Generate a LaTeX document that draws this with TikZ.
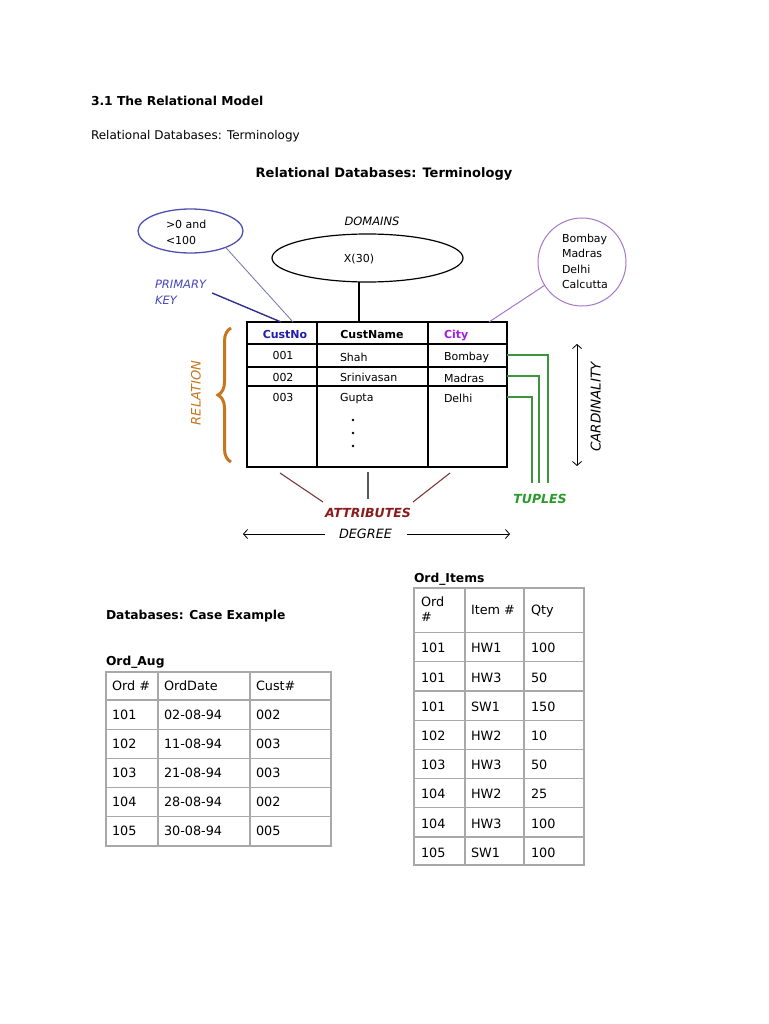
\documentclass[tikz,border=0pt]{standalone}
\usepackage{fontspec}
\setmainfont{DejaVu Sans}
\usetikzlibrary{shapes.geometric,decorations.pathreplacing,arrows.meta}
\definecolor{cnblue}{HTML}{1F1FA8}
\definecolor{pkblue}{HTML}{4545C0}
\definecolor{pkline}{HTML}{303090}
\definecolor{ellblue}{HTML}{5050B0}
\definecolor{elline}{HTML}{7272A8}
\definecolor{citypur}{HTML}{A020E0}
\definecolor{cirpur}{HTML}{A878C8}
\definecolor{relorange}{HTML}{C8761E}
\definecolor{tupgreen}{HTML}{2A9A2A}
\definecolor{tupline}{HTML}{3C963C}
\definecolor{attred}{HTML}{8B1C1C}
\definecolor{attline}{HTML}{7A3A3A}
\definecolor{tblgray}{HTML}{A8A8A8}
\begin{document}
\begin{tikzpicture}[x=1pt,y=-1pt,
  every node/.style={inner sep=0pt, outer sep=0pt},
  tx/.style={yshift=-2.2pt},
  lbl/.style={anchor=mid west, tx},
  ctext/.style={anchor=mid, tx},
  dia/.style={font=\fontsize{11}{15.4}\selectfont},
  diab/.style={font=\bfseries\fontsize{11}{14}\selectfont},
  tt/.style={anchor=mid west, tx, font=\fontsize{12.8}{15}\selectfont},
  ttb/.style={anchor=mid west, tx, font=\bfseries\fontsize{12.3}{15}\selectfont},
  tbl/.style={draw=tblgray, line width=1.2pt},
  dtbl/.style={draw=black, line width=1.2pt},
  tip/.style={{Straight Barb[length=4pt,width=9pt,line width=0.8pt]}-{Straight Barb[length=4pt,width=9pt,line width=0.8pt]}},
  rtip/.style={-{Straight Barb[length=4pt,width=9pt,line width=0.8pt]}}
]
\useasboundingbox (0,0) rectangle (768,1024);
\fill[white] (0,0) rectangle (768,1024);

% headings
\node[ttb, font=\bfseries\fontsize{12.3}{15}\selectfont] (h1) at (91,101) {3.1 The Relational Model};
\node[lbl, font=\fontsize{12}{15}\selectfont] (h2) at (91,135) {Relational Databases: Terminology};
\node[ctext, yshift=-0.8pt, font=\bfseries\fontsize{13}{15}\selectfont] (h3) at (384,172) {Relational Databases: Terminology};

% left ellipse and primary key
\node[ellipse, draw=ellblue, line width=1.3pt, minimum width=105, minimum height=44] (ellL) at (190.5,231) {};
\node[anchor=west, align=left, font=\fontsize{11}{16}\selectfont] (ellLt) at (166,232) {>0 and\\<100};
\node[anchor=west, align=left, text=pkblue, font=\itshape\fontsize{11.5}{16}\selectfont] (pk) at (155,292) {PRIMARY\\KEY};

% domains
\node[ctext, font=\itshape\fontsize{11.5}{14}\selectfont] (dom) at (372,221) {DOMAINS};
\node[ellipse, draw=black, line width=1.2pt, minimum width=191, minimum height=48] (ellM) at (367.5,258) {};
\node[ctext, dia] (x30) at (359,258) {X(30)};

% circle of cities
\node[circle, draw=cirpur, line width=1pt, minimum size=88] (cir) at (582,262) {};
\node[anchor=west, align=left, dia] (cirt) at (562,261.5) {Bombay\\Madras\\Delhi\\Calcutta};

% table coordinates
\coordinate (pkTop) at (281,322);
\coordinate (elTop) at (293,322);
\coordinate (mTop) at (359,322);
\coordinate (cityTop) at (489,322);

\draw[dtbl] (247,322) rectangle (507,467);
\draw[dtbl] (247,344) -- (507,344);
\draw[dtbl] (247,367) -- (507,367);
\draw[dtbl] (247,386) -- (507,386);
\draw[dtbl] (317,322) -- (317,467);
\draw[dtbl] (428,322) -- (428,467);

\node[ctext, diab, text=cnblue] (cCustNo) at (285,334) {CustNo};
\node[ctext, diab] (cCustName) at (372,334) {CustName};
\node[lbl, diab, text=citypur] (cCity) at (444,334) {City};
\node[ctext, dia] (r1a) at (283,355) {001};
\node[lbl, dia] (r1b) at (340,357) {Shah};
\node[lbl, dia] (r1c) at (444,356) {Bombay};
\node[ctext, dia] (r2a) at (283,377) {002};
\node[lbl, dia] (r2b) at (340,377) {Srinivasan};
\node[lbl, dia] (r2c) at (444,378) {Madras};
\node[ctext, dia] (r3a) at (283,397) {003};
\node[lbl, dia] (r3b) at (340,397) {Gupta};
\node[lbl, dia] (r3c) at (444,398) {Delhi};
\foreach \yy [count=\k] in {420,433,446}
  \fill (353,\yy) circle[radius=1.3pt];

% connectors from top
\draw[elline, line width=0.8pt] (ellL.-25) -- (elTop);
\draw[pkline, line width=1.4pt] ([xshift=6pt,yshift=-1pt]pk.east) -- (pkTop);
\draw[black, line width=1.2pt] (mTop) -- (mTop |- ellM.south);
\draw[cirpur, line width=1pt] (cir.212) -- (cityTop);

% relation brace
\draw[relorange, line width=3pt, decorate, decoration={brace, amplitude=13pt}] (231,462) -- (231,328);
\node[anchor=mid, rotate=90, text=relorange, font=\itshape\fontsize{13}{15}\selectfont] (rel) at (198,393) {RELATION};

% tuples
\coordinate (t1s) at (507,355);
\coordinate (t2s) at (507,376);
\coordinate (t3s) at (507,397);
\coordinate (t1e) at (548,483);
\coordinate (t2e) at (539,483);
\coordinate (t3e) at (532,483);
\draw[tupline, line width=1.1pt] (t1s) -| (t1e);
\draw[tupline, line width=1.1pt] (t2s) -| (t2e);
\draw[tupline, line width=1.1pt] (t3s) -| (t3e);
\node[ctext, text=tupgreen, font=\bfseries\itshape\fontsize{12.5}{15}\selectfont] (tup) at (540,499) {TUPLES};

% cardinality
\coordinate (cardTop) at (577,344);
\coordinate (cardBot) at (577,466);
\draw[tip, line width=0.9pt] (cardTop) -- (cardBot);
\node[anchor=mid, rotate=90, font=\itshape\fontsize{13.5}{15}\selectfont] (card) at (598,407) {CARDINALITY};

% attributes
\node[ctext, text=attred, font=\bfseries\itshape\fontsize{12.5}{15}\selectfont] (att) at (368,513) {ATTRIBUTES};
\coordinate (a1s) at (280,473);
\coordinate (a2s) at (368,472);
\coordinate (a3s) at (450,473);
\coordinate (a1e) at (323,502);
\coordinate (a2e) at (368,499);
\coordinate (a3e) at (413,502);
\draw[attline, line width=1.1pt] (a1s) -- (a1e);
\draw[black!65, line width=1.1pt] (a2s) -- (a2e);
\draw[attline, line width=1.1pt] (a3s) -- (a3e);

% degree
\node[ctext, font=\itshape\fontsize{12.8}{15}\selectfont] (deg) at (365.5,534) {DEGREE};
\coordinate (degL) at (243,534);
\coordinate (degR) at (510,534);
\draw[rtip, line width=0.9pt] (deg.west |- degL) ++(-14,0) -- (degL);
\draw[rtip, line width=0.9pt] (deg.east |- degR) ++(15,0) -- (degR);

% case example
\node[ttb] (case) at (106,615) {Databases: Case Example};
\node[ttb] (oaT) at (106,661) {Ord\_Aug};
\draw[tbl] (106,672) rectangle (331,846);
\foreach \yy in {700,729.2,758.4,787.6,816.8} \draw[tbl] (106,\yy) -- (331,\yy);
\draw[tbl] (158,672) -- (158,846);
\draw[tbl] (250,672) -- (250,846);
\foreach \yy/\a/\b/\c [count=\i] in {686/Ord \#/OrdDate/Cust\#, 715/101/02-08-94/002, 744/102/11-08-94/003, 773/103/21-08-94/003, 802/104/28-08-94/002, 831/105/30-08-94/005} {
  \node[tt] (oa\i a) at (112,\yy) {\a};
  \node[tt] (oa\i b) at (164,\yy) {\b};
  \node[tt] (oa\i c) at (256,\yy) {\c};
}

\node[ttb] (oiT) at (414,578) {Ord\_Items};
\draw[tbl] (414,588) rectangle (584,865);
\foreach \yy in {632.5,661.7,690.9,720.1,749.3,778.5,807.7,836.9} \draw[tbl] (414,\yy) -- (584,\yy);
\draw[tbl] (465,588) -- (465,865);
\draw[tbl] (524,588) -- (524,865);
\node[anchor=west, align=left, font=\fontsize{12.8}{15}\selectfont] (oiHa) at (421,609) {Ord\\\#};
\node[tt] (oiHb) at (471,610) {Item \#};
\node[tt] (oiHc) at (531,610) {Qty};
\foreach \a/\b/\c [count=\i] in {101/HW1/100, 101/HW3/50, 101/SW1/150, 102/HW2/10, 103/HW3/50, 104/HW2/25, 104/HW3/100, 105/SW1/100} {
  \pgfmathsetmacro{\yy}{648+29.2*(\i-1)}
  \node[tt] (oi\i a) at (421,\yy) {\a};
  \node[tt] (oi\i b) at (471,\yy) {\b};
  \node[tt] (oi\i c) at (531,\yy) {\c};
}
\end{tikzpicture}
\end{document}
